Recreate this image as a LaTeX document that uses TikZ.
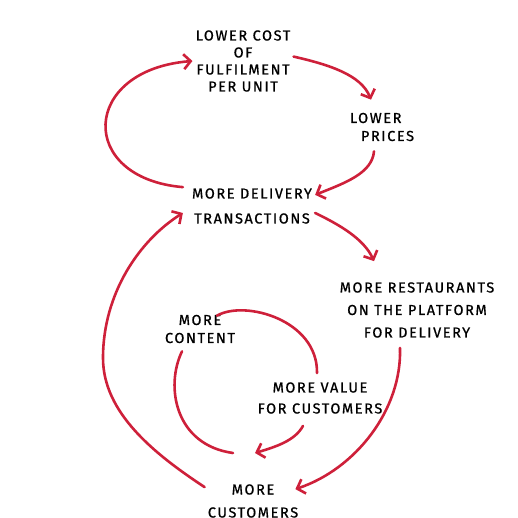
\documentclass[tikz,border=0pt]{standalone}
\usepackage{fontspec}
\setmainfont{Fira Sans}[LetterSpace=11,FakeBold=0.8]
\usetikzlibrary{arrows.meta}
\definecolor{loopred}{RGB}{206,32,58}

\begin{document}
\begin{tikzpicture}
        [x=1pt,y=-1pt,every node/.style={align=center,inner sep=3pt,font=\fontsize{14.5}{21}\selectfont},
         lead/.style={font=\fontsize{14.5}{#1}\selectfont},
         link/.style={draw=loopred,line width=2.6pt,line cap=round,line join=round},
         tip/.style={-{Straight Barb[length=7pt,width=15pt]}}]
        \useasboundingbox (0,0) rectangle (518,518);

        % upper loop
        \node (cost) at         (243,61)    [lead=17]   {LOWER COST\\OF\\FULFILMENT\\PER UNIT};
        \node (prices) at       (382,127)   [lead=18,align=left] {LOWER\\\hspace*{11pt}PRICES};
        \node (delivery) at     (252,206)   [lead=25]   {MORE DELIVERY\\TRANSACTIONS};

        % lower loop
        \node (restaurants) at  (417,310)   [lead=22.5] {MORE RESTAURANTS\\ON THE PLATFORM\\FOR DELIVERY};
        \node (customers) at    (253,501)   [lead=23]   {MORE\\CUSTOMERS};

        % inner loop
        \node (content) at      (200,329)   [lead=18]   {MORE\\CONTENT};
        \node (value) at        (320,398)   [lead=21]   {MORE VALUE\\FOR CUSTOMERS};
        \coordinate (gapl) at   (233,453);
        \coordinate (gapr) at   (255,453);

        \draw[link,tip] ([xshift=-6pt,yshift=-2pt]delivery.north west)
            .. controls +(-106,-9) and +(-112,9) .. (cost.west);
        \draw[link,tip] (cost.5)
            .. controls +(35,8) and +(-10,-25) .. ([xshift=-11pt,yshift=10pt]prices.north);
        \draw[link,tip] ([xshift=-8pt,yshift=-7pt]prices.south)
            .. controls +(-2,22) and +(30,-12) .. (delivery.10);

        \draw[link,tip] ([yshift=-7pt]delivery.east)
            .. controls +(25,12) and +(-10,-22) .. ([xshift=-43pt,yshift=18pt]restaurants.north);
        \draw[link,tip] ([xshift=-17pt,yshift=-7pt]restaurants.south)
            .. controls +(2,62) and +(60,-20) .. ([xshift=-6pt,yshift=-8pt]customers.north east);
        \draw[link,tip] ([yshift=-6pt]customers.north west)
            .. controls +(-50,-33) and +(0,55) .. (103,358)
            .. controls +(0,-65) and +(-43,27) .. ([xshift=-6pt,yshift=-7pt]delivery.west);

        \draw[link] ([xshift=17pt,yshift=-4pt]content.north)
            .. controls +(28,-16) and +(1,-53) .. ([xshift=-3pt,yshift=6pt]value.north);
        \draw[link] ([xshift=-18pt,yshift=-5pt]content.south)
            .. controls +(-17,35) and +(-58,-8) .. (gapl);
        \draw[link,tip] ([xshift=-17pt,yshift=-9pt]value.south)
            .. controls +(-8,15) and +(20,-6) .. (gapr);
\end{tikzpicture}
\end{document}
